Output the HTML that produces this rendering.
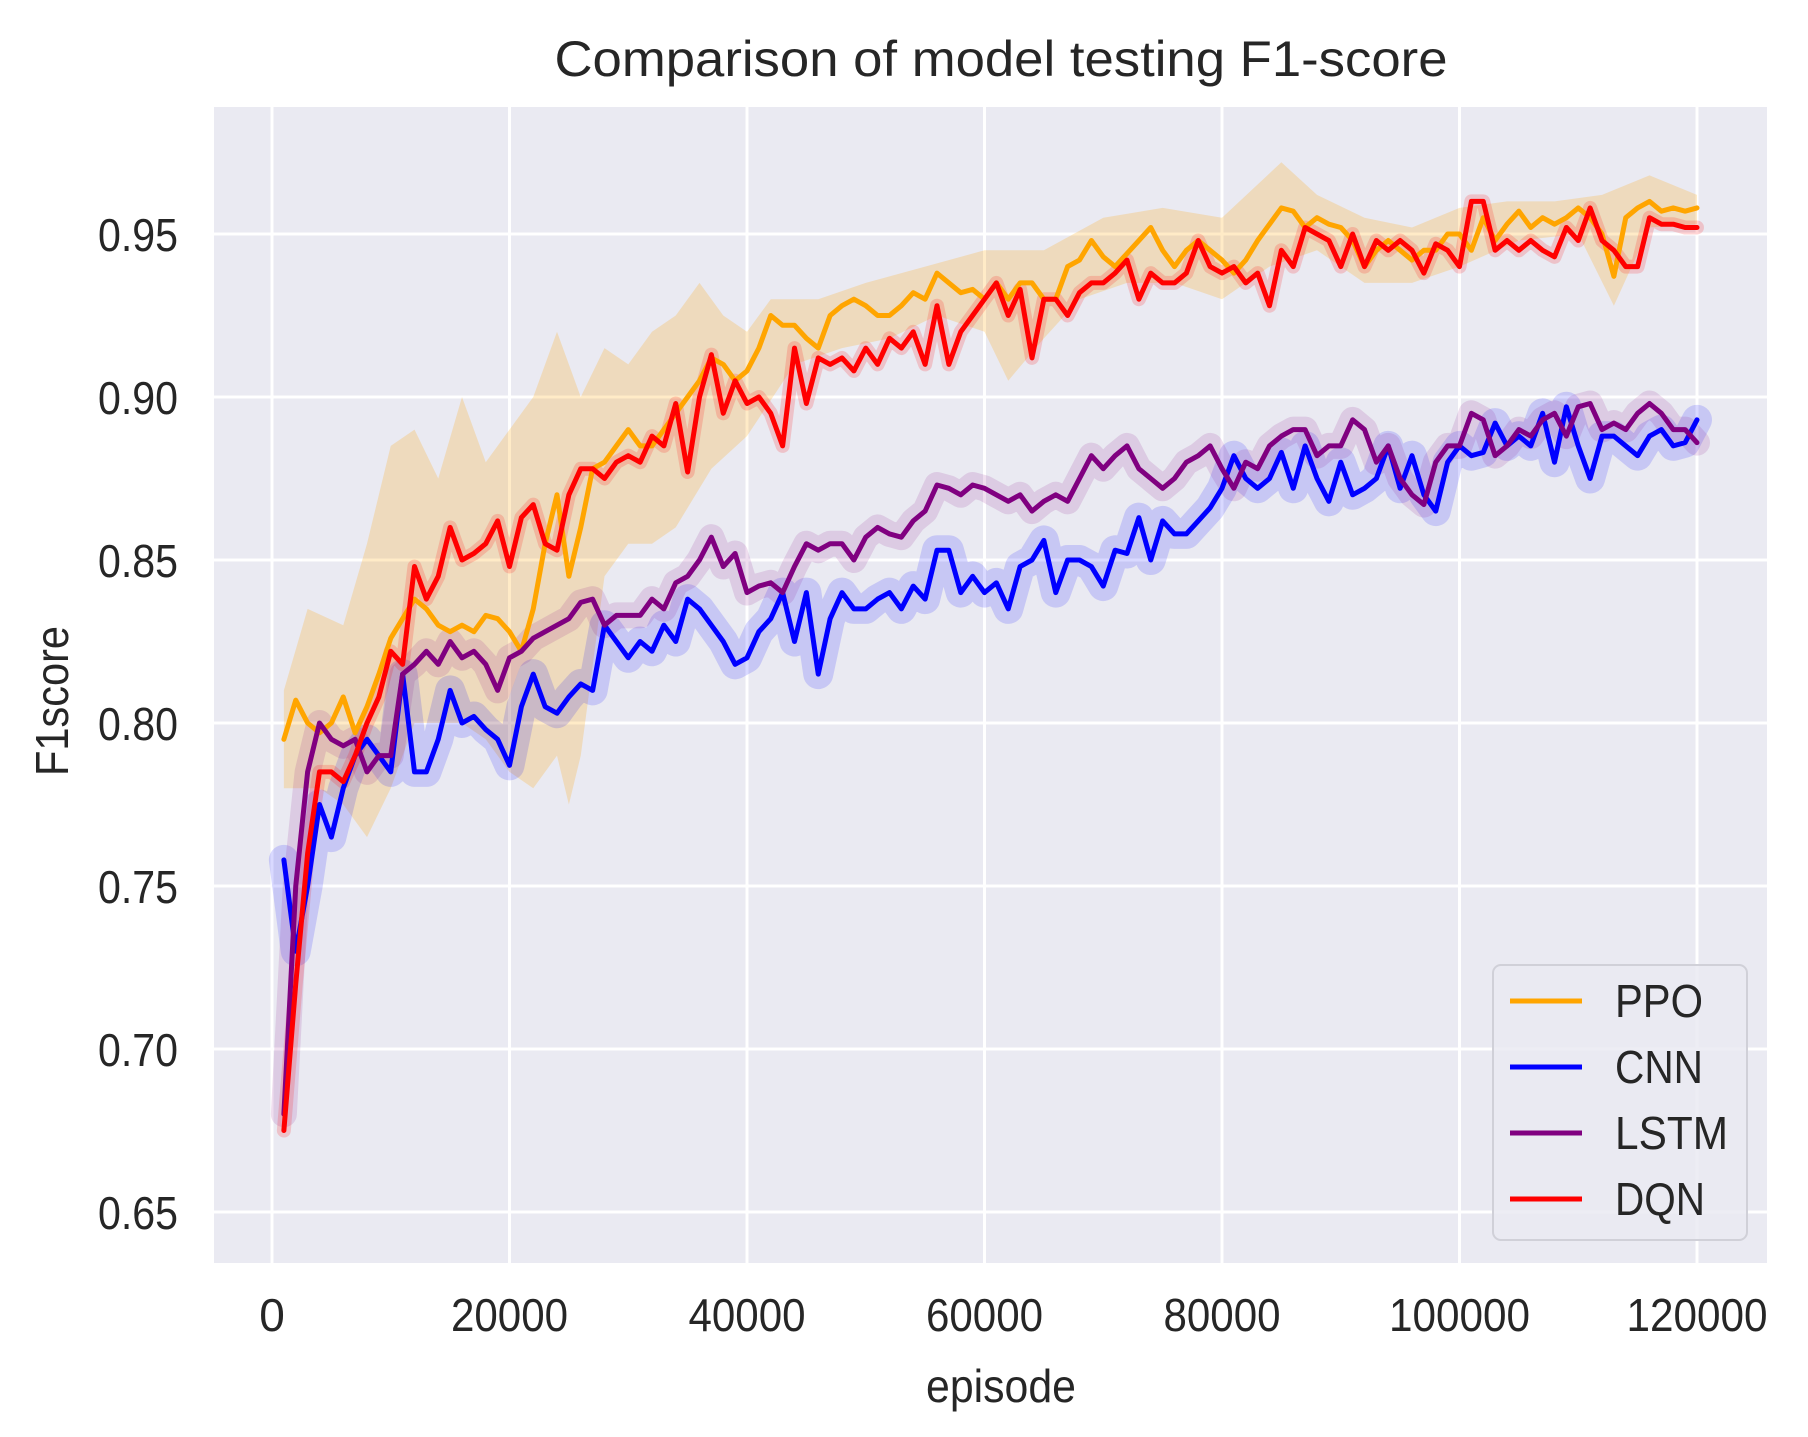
<!DOCTYPE html>
<html><head><meta charset="utf-8"><style>html,body{margin:0;padding:0;background:#fff}svg{display:block}</style></head>
<body>
<svg width="1808" height="1437" viewBox="0 0 1808 1437" xmlns="http://www.w3.org/2000/svg" font-family="Liberation Sans, Arial, sans-serif">
<rect x="0" y="0" width="1808" height="1437" fill="#fff"/>
<rect x="214" y="107" width="1553" height="1156" fill="#EAEAF2"/>
<g stroke="#fff" stroke-width="3">
<line x1="272" y1="107" x2="272" y2="1263"/><line x1="509.5" y1="107" x2="509.5" y2="1263"/><line x1="747" y1="107" x2="747" y2="1263"/><line x1="984.5" y1="107" x2="984.5" y2="1263"/><line x1="1222" y1="107" x2="1222" y2="1263"/><line x1="1459.5" y1="107" x2="1459.5" y2="1263"/><line x1="1697" y1="107" x2="1697" y2="1263"/>
<line x1="214" y1="234" x2="1767" y2="234"/><line x1="214" y1="397" x2="1767" y2="397"/><line x1="214" y1="560" x2="1767" y2="560"/><line x1="214" y1="723" x2="1767" y2="723"/><line x1="214" y1="886" x2="1767" y2="886"/><line x1="214" y1="1049" x2="1767" y2="1049"/><line x1="214" y1="1212" x2="1767" y2="1212"/>
</g>
<clipPath id="c"><rect x="214" y="107" width="1553" height="1156"/></clipPath>
<g clip-path="url(#c)">
<g transform="matrix(11.875,0,0,-3.26,272,3331)" fill="none" stroke-linejoin="round" stroke-linecap="round">
<polygon fill="#FFA500" fill-opacity="0.22" stroke="none" points="1,810 3,835 6,830 8,855 10,885 12,890 14,875 16,900 18,880 20,890 22,900 24,920 26,900 28,915 30,910 32,920 34,925 36,935 38,925 40,920 42,930 46,930 50,935 55,940 60,945 65,945 70,955 75,958 80,955 85,972 88,962 92,955 96,952 100,958 104,960 108,960 112,962 116,968 120,962 120,953 116,952 113,928 110,950 105,948 100,940 96,935 92,935 88,945 84,940 80,930 76,935 72,935 68,930 65,918 62,905 60,920 56,925 52,918 48,915 44,910 40,888 37,878 34,860 32,855 30,855 28,845 26,790 25,775 24,790 22,780 20,785 18,795 16,800 14,800 12,800 10,780 8,765 6,775 4,780 2,780 1,780"/>
<polyline vector-effect="non-scaling-stroke" stroke="#0000FF" stroke-opacity="0.15" stroke-width="30" points="1,758 2,730 3,750 4,775 5,765 6,780 7,790 8,795 9,790 10,785 11,815 12,785 13,785 14,795 15,810 16,800 17,802 18,798 19,795 20,787 21,805 22,815 23,805 24,803 25,808 26,812 27,810 28,830 29,825 30,820 31,825 32,822 33,830 34,825 35,838 36,835 37,830 38,825 39,818 40,820 41,828 42,832 43,840 44,825 45,840 46,815 47,832 48,840 49,835 50,835 51,838 52,840 53,835 54,842 55,838 56,853 57,853 58,840 59,845 60,840 61,843 62,835 63,848 64,850 65,856 66,840 67,850 68,850 69,848 70,842 71,853 72,852 73,863 74,850 75,862 76,858 77,858 78,862 79,866 80,872 81,882 82,875 83,872 84,875 85,883 86,872 87,885 88,875 89,868 90,880 91,870 92,872 93,875 94,885 95,872 96,882 97,870 98,865 99,880 100,885 101,882 102,883 103,892 104,885 105,888 106,885 107,895 108,880 109,897 110,885 111,875 112,888 113,888 114,885 115,882 116,888 117,890 118,885 119,886 120,893"/>
<polyline vector-effect="non-scaling-stroke" stroke="#800080" stroke-opacity="0.13" stroke-width="26" points="1,680 2,750 3,785 4,800 5,795 6,793 7,795 8,785 9,790 10,790 11,815 12,818 13,822 14,818 15,825 16,820 17,822 18,818 19,810 20,820 21,822 22,826 23,828 24,830 25,832 26,837 27,838 28,830 29,833 30,833 31,833 32,838 33,835 34,843 35,845 36,850 37,857 38,848 39,852 40,840 41,842 42,843 43,840 44,848 45,855 46,853 47,855 48,855 49,850 50,857 51,860 52,858 53,857 54,862 55,865 56,873 57,872 58,870 59,873 60,872 61,870 62,868 63,870 64,865 65,868 66,870 67,868 68,875 69,882 70,878 71,882 72,885 73,878 74,875 75,872 76,875 77,880 78,882 79,885 80,878 81,872 82,880 83,878 84,885 85,888 86,890 87,890 88,882 89,885 90,885 91,893 92,890 93,880 94,885 95,875 96,870 97,867 98,880 99,885 100,885 101,895 102,893 103,882 104,885 105,890 106,888 107,893 108,895 109,888 110,897 111,898 112,890 113,892 114,890 115,895 116,898 117,895 118,890 119,890 120,886"/>
<polyline vector-effect="non-scaling-stroke" stroke="#FF0000" stroke-opacity="0.17" stroke-width="14" points="1,675 2,720 3,760 4,785 5,785 6,782 7,790 8,800 9,808 10,822 11,818 12,848 13,838 14,845 15,860 16,850 17,852 18,855 19,862 20,848 21,863 22,867 23,855 24,853 25,870 26,878 27,878 28,875 29,880 30,882 31,880 32,888 33,885 34,898 35,877 36,900 37,913 38,895 39,905 40,898 41,900 42,895 43,885 44,915 45,898 46,912 47,910 48,912 49,908 50,915 51,910 52,918 53,915 54,920 55,910 56,928 57,910 58,920 59,925 60,930 61,935 62,925 63,933 64,912 65,930 66,930 67,925 68,932 69,935 70,935 71,938 72,942 73,930 74,938 75,935 76,935 77,938 78,948 79,940 80,938 81,940 82,935 83,938 84,928 85,945 86,940 87,952 88,950 89,948 90,940 91,950 92,940 93,948 94,945 95,948 96,945 97,938 98,947 99,945 100,940 101,960 102,960 103,945 104,948 105,945 106,948 107,945 108,943 109,952 110,948 111,958 112,948 113,945 114,940 115,940 116,955 117,953 118,953 119,952 120,952"/>
<polyline vector-effect="non-scaling-stroke" stroke="#FFA500" stroke-width="5" points="1,795 2,807 3,800 4,797 5,800 6,808 7,797 8,805 9,815 10,826 11,832 12,838 13,835 14,830 15,828 16,830 17,828 18,833 19,832 20,828 21,822 22,835 23,855 24,870 25,845 26,860 27,878 28,880 29,885 30,890 31,885 32,885 33,890 34,895 35,900 36,905 37,912 38,910 39,905 40,908 41,915 42,925 43,922 44,922 45,918 46,915 47,925 48,928 49,930 50,928 51,925 52,925 53,928 54,932 55,930 56,938 57,935 58,932 59,933 60,930 61,935 62,930 63,935 64,935 65,930 66,930 67,940 68,942 69,948 70,943 71,940 72,944 73,948 74,952 75,945 76,940 77,945 78,948 79,945 80,942 81,938 82,942 83,948 84,953 85,958 86,957 87,952 88,955 89,953 90,952 91,948 92,940 93,945 94,948 95,945 96,942 97,945 98,945 99,950 100,950 101,945 102,955 103,948 104,953 105,957 106,952 107,955 108,953 109,955 110,958 111,955 112,950 113,937 114,955 115,958 116,960 117,957 118,958 119,957 120,958"/>
<polyline vector-effect="non-scaling-stroke" stroke="#0000FF" stroke-width="5" points="1,758 2,730 3,750 4,775 5,765 6,780 7,790 8,795 9,790 10,785 11,815 12,785 13,785 14,795 15,810 16,800 17,802 18,798 19,795 20,787 21,805 22,815 23,805 24,803 25,808 26,812 27,810 28,830 29,825 30,820 31,825 32,822 33,830 34,825 35,838 36,835 37,830 38,825 39,818 40,820 41,828 42,832 43,840 44,825 45,840 46,815 47,832 48,840 49,835 50,835 51,838 52,840 53,835 54,842 55,838 56,853 57,853 58,840 59,845 60,840 61,843 62,835 63,848 64,850 65,856 66,840 67,850 68,850 69,848 70,842 71,853 72,852 73,863 74,850 75,862 76,858 77,858 78,862 79,866 80,872 81,882 82,875 83,872 84,875 85,883 86,872 87,885 88,875 89,868 90,880 91,870 92,872 93,875 94,885 95,872 96,882 97,870 98,865 99,880 100,885 101,882 102,883 103,892 104,885 105,888 106,885 107,895 108,880 109,897 110,885 111,875 112,888 113,888 114,885 115,882 116,888 117,890 118,885 119,886 120,893"/>
<polyline vector-effect="non-scaling-stroke" stroke="#800080" stroke-width="5" points="1,680 2,750 3,785 4,800 5,795 6,793 7,795 8,785 9,790 10,790 11,815 12,818 13,822 14,818 15,825 16,820 17,822 18,818 19,810 20,820 21,822 22,826 23,828 24,830 25,832 26,837 27,838 28,830 29,833 30,833 31,833 32,838 33,835 34,843 35,845 36,850 37,857 38,848 39,852 40,840 41,842 42,843 43,840 44,848 45,855 46,853 47,855 48,855 49,850 50,857 51,860 52,858 53,857 54,862 55,865 56,873 57,872 58,870 59,873 60,872 61,870 62,868 63,870 64,865 65,868 66,870 67,868 68,875 69,882 70,878 71,882 72,885 73,878 74,875 75,872 76,875 77,880 78,882 79,885 80,878 81,872 82,880 83,878 84,885 85,888 86,890 87,890 88,882 89,885 90,885 91,893 92,890 93,880 94,885 95,875 96,870 97,867 98,880 99,885 100,885 101,895 102,893 103,882 104,885 105,890 106,888 107,893 108,895 109,888 110,897 111,898 112,890 113,892 114,890 115,895 116,898 117,895 118,890 119,890 120,886"/>
<polyline vector-effect="non-scaling-stroke" stroke="#FF0000" stroke-width="5" points="1,675 2,720 3,760 4,785 5,785 6,782 7,790 8,800 9,808 10,822 11,818 12,848 13,838 14,845 15,860 16,850 17,852 18,855 19,862 20,848 21,863 22,867 23,855 24,853 25,870 26,878 27,878 28,875 29,880 30,882 31,880 32,888 33,885 34,898 35,877 36,900 37,913 38,895 39,905 40,898 41,900 42,895 43,885 44,915 45,898 46,912 47,910 48,912 49,908 50,915 51,910 52,918 53,915 54,920 55,910 56,928 57,910 58,920 59,925 60,930 61,935 62,925 63,933 64,912 65,930 66,930 67,925 68,932 69,935 70,935 71,938 72,942 73,930 74,938 75,935 76,935 77,938 78,948 79,940 80,938 81,940 82,935 83,938 84,928 85,945 86,940 87,952 88,950 89,948 90,940 91,950 92,940 93,948 94,945 95,948 96,945 97,938 98,947 99,945 100,940 101,960 102,960 103,945 104,948 105,945 106,948 107,945 108,943 109,952 110,948 111,958 112,948 113,945 114,940 115,940 116,955 117,953 118,953 119,952 120,952"/>
</g>
</g>
<rect x="1493" y="965" width="254" height="275" rx="8" fill="#EAEAF2" fill-opacity="0.85" stroke="#d0d0d8" stroke-width="2"/>
<g stroke-width="5">
<line x1="1510" y1="1001" x2="1582" y2="1001" stroke="#FFA500"/>
<line x1="1510" y1="1067" x2="1582" y2="1067" stroke="#0000FF"/>
<line x1="1510" y1="1133" x2="1582" y2="1133" stroke="#800080"/>
<line x1="1510" y1="1199" x2="1582" y2="1199" stroke="#FF0000"/>
</g>
<g fill="#262626" font-size="46">
<text x="1615" y="1017" textLength="88" lengthAdjust="spacingAndGlyphs">PPO</text>
<text x="1615" y="1083" textLength="88" lengthAdjust="spacingAndGlyphs">CNN</text>
<text x="1615" y="1149" textLength="113" lengthAdjust="spacingAndGlyphs">LSTM</text>
<text x="1615" y="1215" textLength="90" lengthAdjust="spacingAndGlyphs">DQN</text>
</g>
<g fill="#262626" font-size="46" text-anchor="end">
<text x="178" y="251" textLength="80" lengthAdjust="spacingAndGlyphs">0.95</text>
<text x="178" y="414" textLength="80" lengthAdjust="spacingAndGlyphs">0.90</text>
<text x="178" y="577" textLength="80" lengthAdjust="spacingAndGlyphs">0.85</text>
<text x="178" y="740" textLength="80" lengthAdjust="spacingAndGlyphs">0.80</text>
<text x="178" y="903" textLength="80" lengthAdjust="spacingAndGlyphs">0.75</text>
<text x="178" y="1066" textLength="80" lengthAdjust="spacingAndGlyphs">0.70</text>
<text x="178" y="1229" textLength="80" lengthAdjust="spacingAndGlyphs">0.65</text>
</g>
<g fill="#262626" font-size="46" text-anchor="middle">
<text x="272" y="1331">0</text>
<text x="509.5" y="1331" textLength="117" lengthAdjust="spacingAndGlyphs">20000</text>
<text x="747" y="1331" textLength="117" lengthAdjust="spacingAndGlyphs">40000</text>
<text x="984.5" y="1331" textLength="117" lengthAdjust="spacingAndGlyphs">60000</text>
<text x="1222" y="1331" textLength="117" lengthAdjust="spacingAndGlyphs">80000</text>
<text x="1459.5" y="1331" textLength="141" lengthAdjust="spacingAndGlyphs">100000</text>
<text x="1697" y="1331" textLength="141" lengthAdjust="spacingAndGlyphs">120000</text>
<text x="1001" y="1402" textLength="150" lengthAdjust="spacingAndGlyphs">episode</text>
<text x="1001" y="76" font-size="50" textLength="893" lengthAdjust="spacingAndGlyphs">Comparison of model testing F1-score</text>
<text transform="translate(68,701) rotate(-90)" textLength="150" lengthAdjust="spacingAndGlyphs">F1score</text>
</g>
</svg>
</body></html>
